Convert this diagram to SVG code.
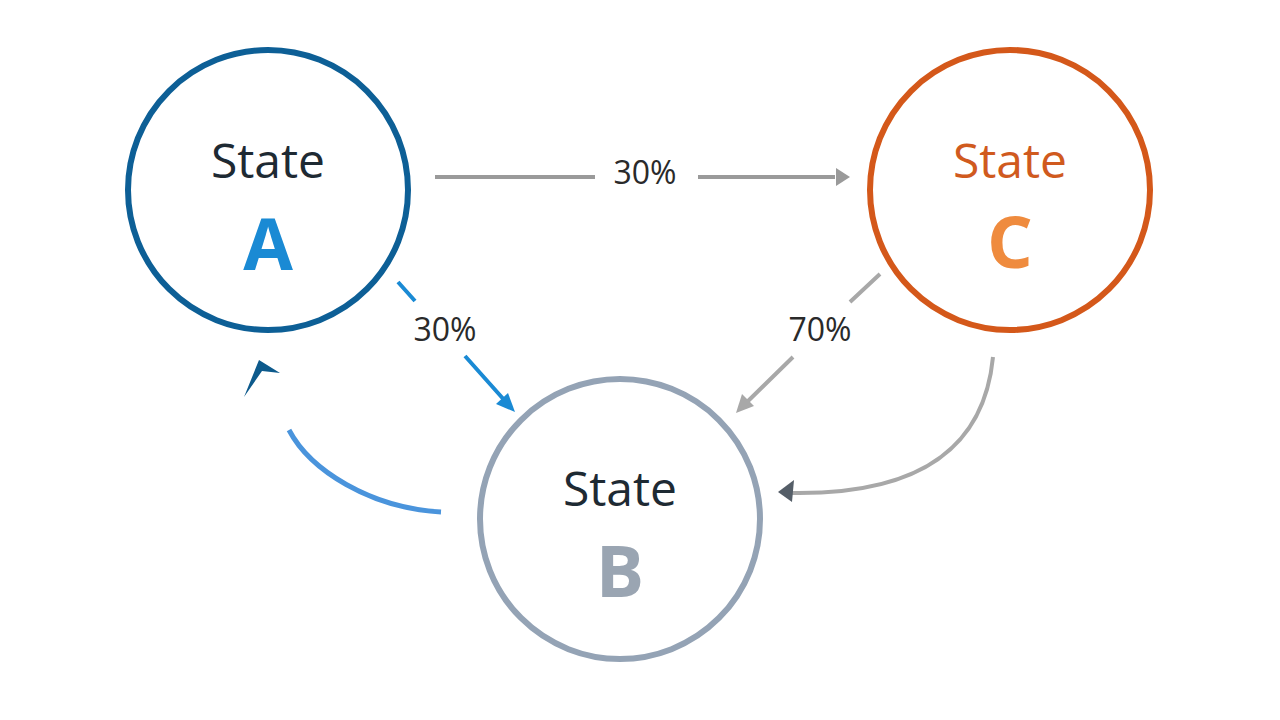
<svg xmlns="http://www.w3.org/2000/svg" width="1280" height="720" viewBox="0 0 1280 720">
<style>
.t{font-family:"Open Sans","Noto Sans",sans-serif;font-size:48px;text-anchor:middle}
.l{font-family:"Open Sans","Noto Sans",sans-serif;font-size:72px;font-weight:bold;text-anchor:middle}
.p{font-family:"Open Sans","Noto Sans",sans-serif;font-size:32px;fill:#2a2a2a;text-anchor:middle}
</style>
<defs>
<marker id="ag" markerWidth="10" markerHeight="10" refX="8" refY="5" orient="auto" markerUnits="userSpaceOnUse" viewBox="0 0 10 10"><path d="M0,0L10,5L0,10z" fill="#999"/></marker>
</defs>
<rect width="1280" height="720" fill="#fff"/>
<g id="connectors" fill="none">
<path d="M435,177H595M698,177H835" stroke="#9a9a9a" stroke-width="4"/>
<path d="M836,168L850,177L836,186z" fill="#9a9a9a"/>
<path d="M398,282L415,301M465,356L506,402" stroke="#1a8ad4" stroke-width="4"/>
<path d="M515,412L496,404L508,393z" fill="#1a8ad4"/>
<path d="M880,274L850,302M793,357L745,404" stroke="#a8a8a8" stroke-width="4"/>
<path d="M736,413L742,394L754,406z" fill="#a8a8a8"/>
<path d="M993,357C985,440 930,495 792,493" stroke="#a8a8a8" stroke-width="4"/>
<path d="M778,492L794,480L792,502z" fill="#555e68"/>
<path d="M441,512C370,508 310,470 289,430" stroke="#4a94dc" stroke-width="5"/>
<path d="M244,397L259,360L280,373L262,371z" fill="#0d5a8c"/>
</g>
<g id="A"><circle cx="268" cy="190" r="140" fill="none" stroke="#0d5f96" stroke-width="6"/>
<text class="t" x="268" y="178" fill="#1e2a33">State</text><text class="l" x="268" y="270" fill="#1a8ad4">A</text></g>
<g id="C"><circle cx="1010" cy="190" r="140" fill="none" stroke="#d4581a" stroke-width="6"/>
<text class="t" x="1010" y="178" fill="#d05a1e">State</text><text class="l" x="1010" y="268" fill="#ef8b3e">C</text></g>
<g id="B"><circle cx="620" cy="519" r="140" fill="none" stroke="#94a3b5" stroke-width="6"/>
<text class="t" x="620" y="506" fill="#1e2a33">State</text><text class="l" x="620" y="597" fill="#9aa5b2">B</text></g>
<text class="p" x="645" y="184">30%</text>
<text class="p" x="445" y="341">30%</text>
<text class="p" x="820" y="341">70%</text>
</svg>
